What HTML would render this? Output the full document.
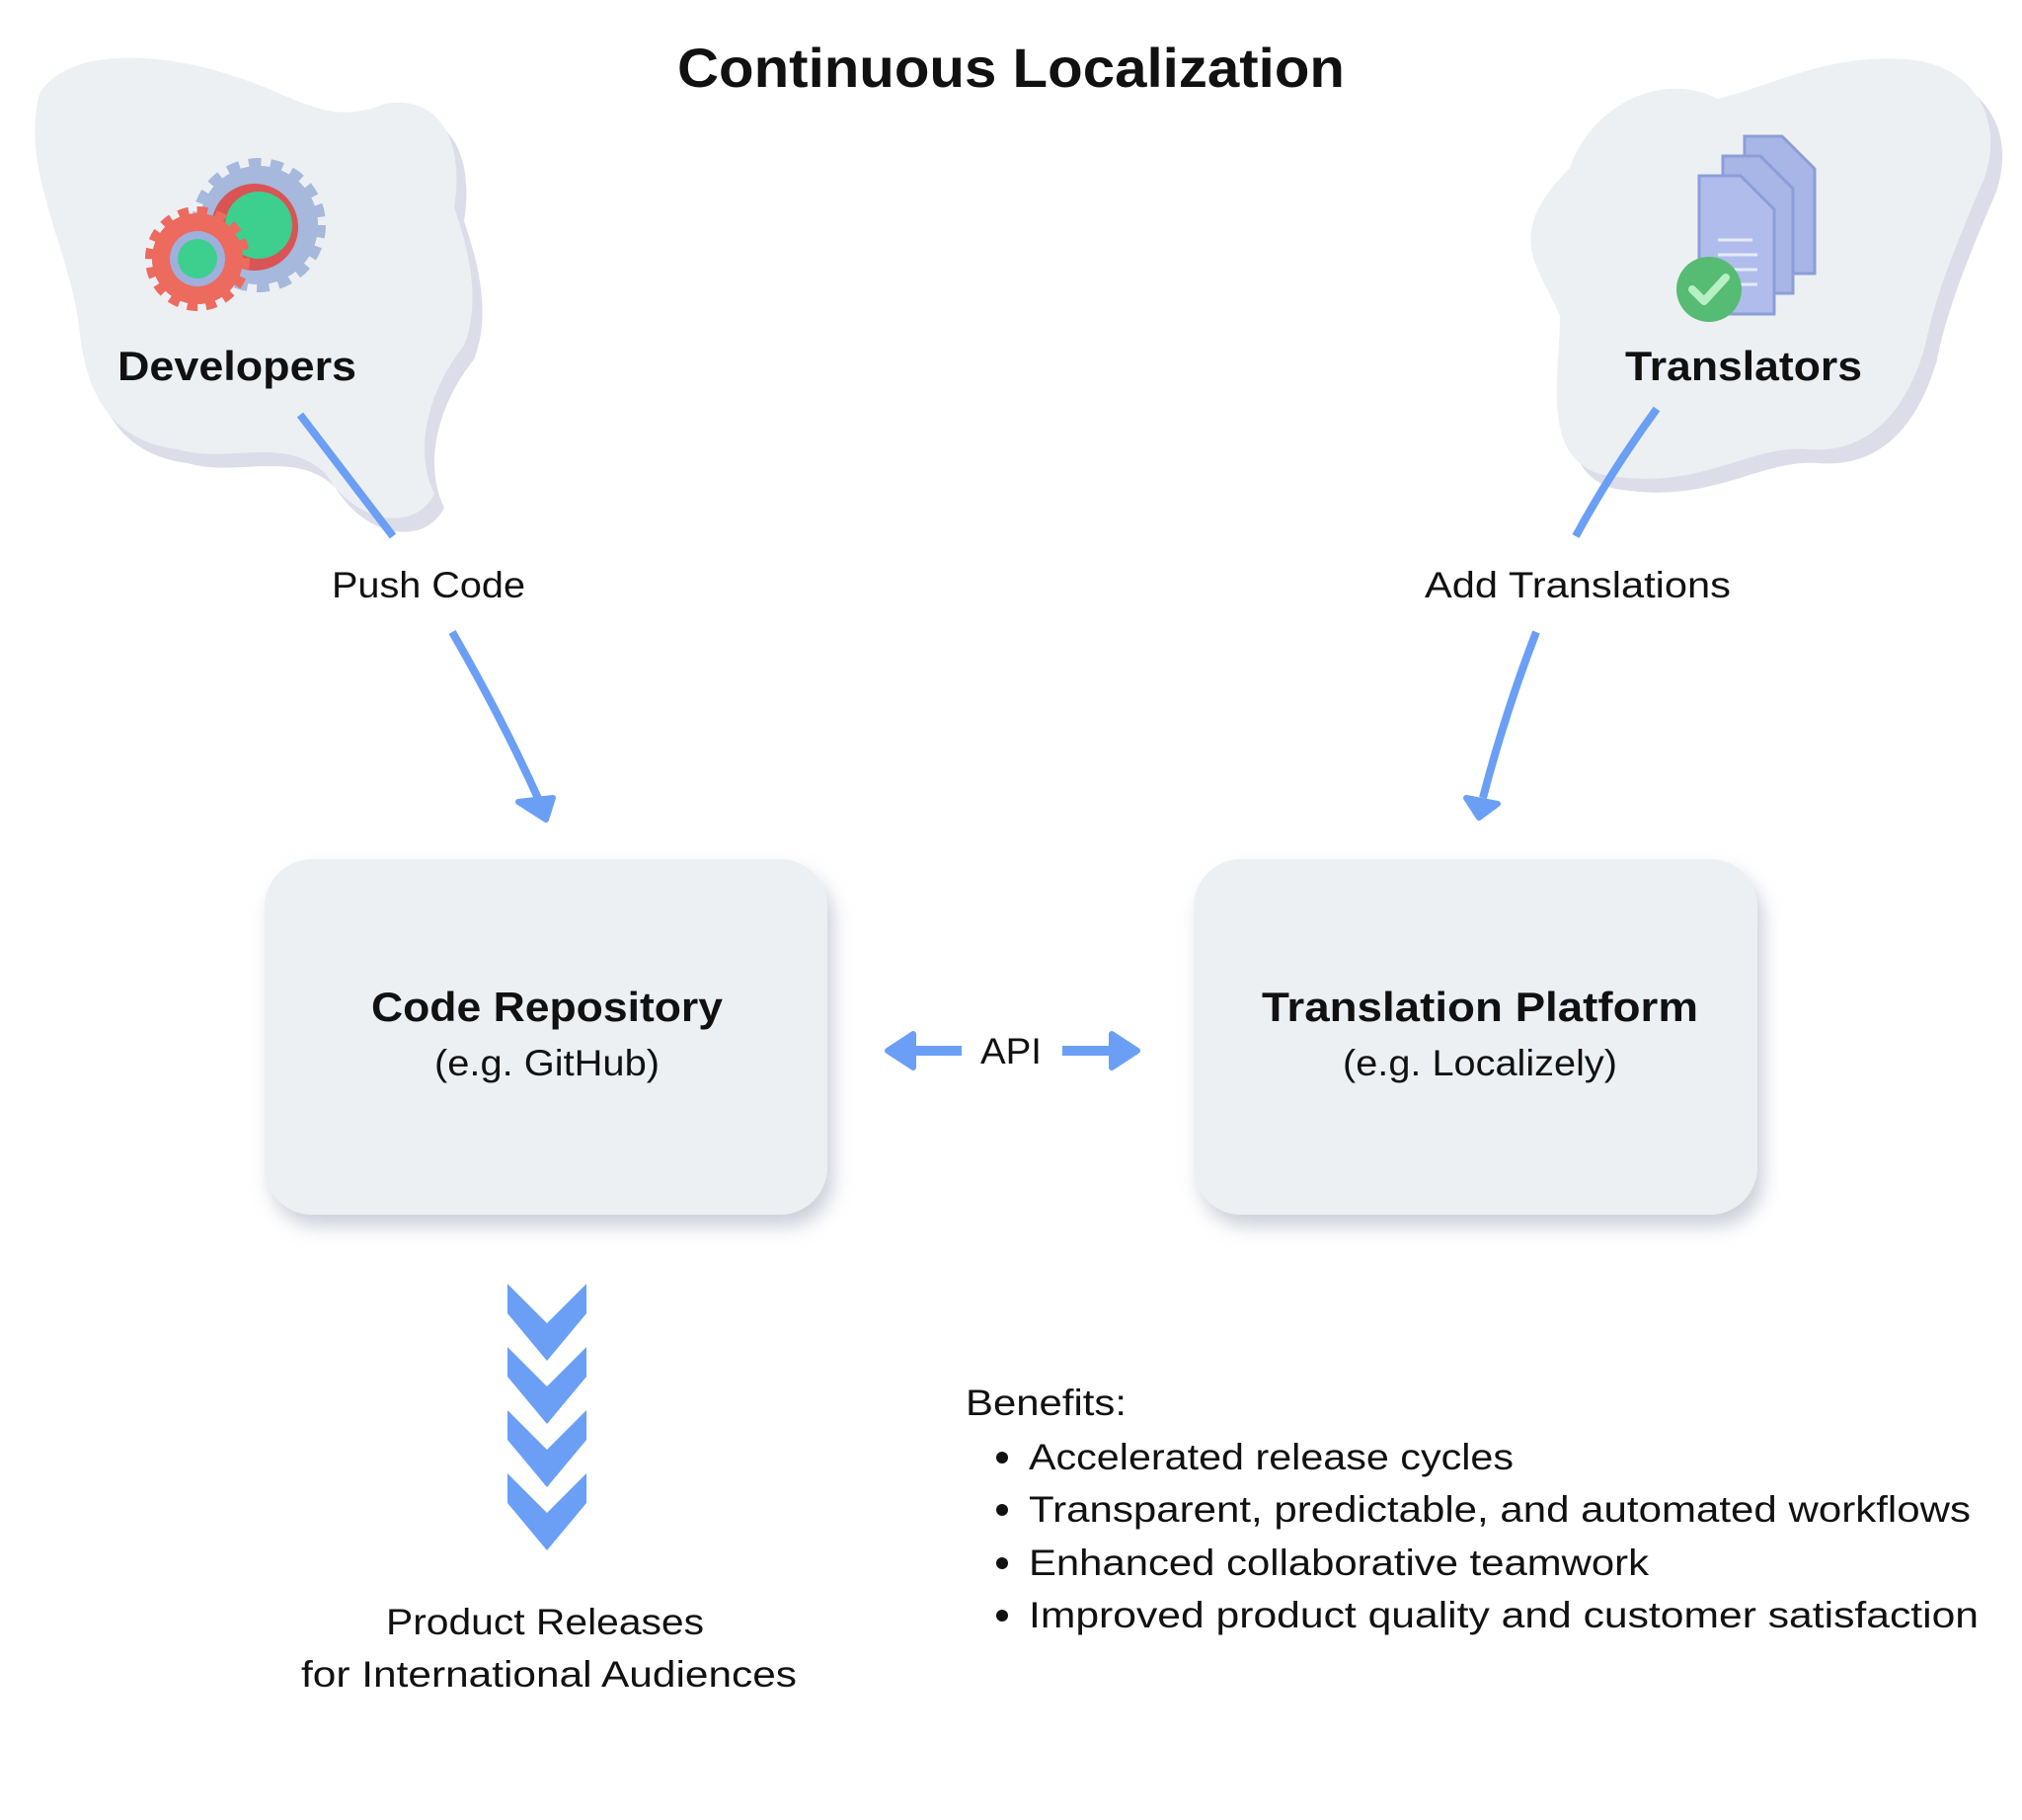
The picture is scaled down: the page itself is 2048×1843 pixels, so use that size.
<!DOCTYPE html>
<html><head><meta charset="utf-8"><style>
html,body{margin:0;padding:0;background:#fff;}
svg{display:block;}
text{font-family:"Liberation Sans",sans-serif;fill:#111;}
.b{font-weight:bold;}
</style></head><body>
<svg width="2048" height="1843" viewBox="0 0 2048 1843" xmlns="http://www.w3.org/2000/svg">
<defs>
<filter id="sh" x="-20%" y="-20%" width="140%" height="150%">
<feGaussianBlur in="SourceAlpha" stdDeviation="9"/>
<feOffset dx="6" dy="12" result="o"/>
<feFlood flood-color="#b8bccb" flood-opacity="0.7"/>
<feComposite in2="o" operator="in"/>
<feMerge><feMergeNode/><feMergeNode in="SourceGraphic"/></feMerge>
</filter>
</defs>

<text x="1024" y="88" text-anchor="middle" class="b" font-size="56" textLength="676" lengthAdjust="spacingAndGlyphs">Continuous Localization</text>

<!-- Developers blob -->
<path d="M40 95 C70 45 170 55 230 75 C300 95 330 130 390 105 C450 95 470 150 460 210 C470 240 490 300 470 350 C430 400 420 460 440 500 C420 540 360 530 330 480 C290 440 230 470 180 455 C100 445 85 380 80 330 C70 250 20 170 40 95 Z" fill="#dcdde9" transform="translate(10,14)"/>
<path d="M40 95 C70 45 170 55 230 75 C300 95 330 130 390 105 C450 95 470 150 460 210 C470 240 490 300 470 350 C430 400 420 460 440 500 C420 540 360 530 330 480 C290 440 230 470 180 455 C100 445 85 380 80 330 C70 250 20 170 40 95 Z" fill="#edf0f3"/>

<!-- gears -->
<g>
<circle cx="262" cy="228" r="60" fill="#a6b8dc" stroke="#a6b8dc" stroke-width="16" stroke-dasharray="12 9"/>
<circle cx="262" cy="228" r="60" fill="#a6b8dc"/>
<circle cx="258" cy="230" r="44" fill="#d95454"/>
<circle cx="262" cy="228" r="34" fill="#3ccf8e"/>
<circle cx="200" cy="262" r="46" fill="#ec6a5e" stroke="#ec6a5e" stroke-width="14" stroke-dasharray="10 8"/>
<circle cx="200" cy="262" r="46" fill="#ec6a5e"/>
<circle cx="200" cy="262" r="28" fill="#9fb0dc"/>
<circle cx="200" cy="262" r="20" fill="#3ccf8e"/>
</g>
<text x="240" y="385" text-anchor="middle" class="b" font-size="42" textLength="242" lengthAdjust="spacingAndGlyphs">Developers</text>

<!-- Translators blob -->
<path d="M1590 170 C1610 110 1680 70 1740 100 C1800 85 1850 55 1930 60 C2000 65 2030 120 2010 180 C1980 250 1960 300 1950 350 C1930 420 1890 460 1830 455 C1770 450 1720 500 1620 480 C1560 460 1580 380 1580 320 C1560 270 1520 240 1590 170 Z" fill="#dcdde9" transform="translate(12,14)"/>
<path d="M1590 170 C1610 110 1680 70 1740 100 C1800 85 1850 55 1930 60 C2000 65 2030 120 2010 180 C1980 250 1960 300 1950 350 C1930 420 1890 460 1830 455 C1770 450 1720 500 1620 480 C1560 460 1580 380 1580 320 C1560 270 1520 240 1590 170 Z" fill="#edf0f3"/>

<!-- documents -->
<g>
<path d="M1767 138 h38 l33 33 v106 h-71 z" fill="#a7b6e6" stroke="#8c9ed8" stroke-width="3"/>
<path d="M1745 158 h38 l33 33 v106 h-71 z" fill="#a7b6e6" stroke="#8c9ed8" stroke-width="3"/>
<path d="M1721 178 h42 l34 34 v106 h-76 z" fill="#b0bdec" stroke="#8c9ed8" stroke-width="3"/>
<g stroke="#e6ebfa" stroke-width="3"><line x1="1740" y1="243" x2="1775" y2="243"/><line x1="1740" y1="258" x2="1780" y2="258"/><line x1="1740" y1="273" x2="1780" y2="273"/><line x1="1740" y1="288" x2="1780" y2="288"/></g>
<circle cx="1731" cy="293" r="33" fill="#56bb73"/>
<path d="M1714 293 l12 12 l22 -24" fill="none" stroke="#b7f0c2" stroke-width="8" stroke-linecap="round" stroke-linejoin="round"/>
</g>
<text x="1766" y="385" text-anchor="middle" class="b" font-size="42" textLength="240" lengthAdjust="spacingAndGlyphs">Translators</text>

<!-- connectors -->
<g stroke="#6a9ff5" stroke-width="8" fill="none" stroke-linecap="butt">
<line x1="304" y1="420" x2="398" y2="543"/>
<path d="M458 640 Q510 730 548 815"/>
<path d="M1678 414 Q1630 480 1596 543"/>
<path d="M1556 640 Q1525 720 1502 808"/>
</g>
<path d="M525 812 L560 808 L553 830 Z" fill="#6a9ff5" stroke="#6a9ff5" stroke-width="6" stroke-linejoin="round"/>
<path d="M1485 808 L1517 814 L1498 828 Z" fill="#6a9ff5" stroke="#6a9ff5" stroke-width="6" stroke-linejoin="round"/>

<text x="434" y="605" text-anchor="middle" font-size="37" textLength="196" lengthAdjust="spacingAndGlyphs">Push Code</text>
<text x="1598" y="605" text-anchor="middle" font-size="37" textLength="310" lengthAdjust="spacingAndGlyphs">Add Translations</text>

<!-- boxes -->
<rect x="268" y="870" width="570" height="360" rx="48" fill="#edf0f3" filter="url(#sh)"/>
<rect x="1209" y="870" width="571" height="360" rx="48" fill="#edf0f3" filter="url(#sh)"/>
<text x="554" y="1034" text-anchor="middle" class="b" font-size="42" textLength="356" lengthAdjust="spacingAndGlyphs">Code Repository</text>
<text x="554" y="1089" text-anchor="middle" font-size="37" textLength="228" lengthAdjust="spacingAndGlyphs">(e.g. GitHub)</text>
<text x="1499" y="1034" text-anchor="middle" class="b" font-size="42" textLength="442" lengthAdjust="spacingAndGlyphs">Translation Platform</text>
<text x="1499" y="1089" text-anchor="middle" font-size="37" textLength="278" lengthAdjust="spacingAndGlyphs">(e.g. Localizely)</text>

<!-- API arrows -->
<g fill="#6a9ff5" stroke="#6a9ff5" stroke-linejoin="round" stroke-width="6">
<rect x="925" y="1059" width="49" height="10" stroke="none"/>
<path d="M899 1064 L925 1047 L925 1081 Z"/>
<rect x="1076" y="1059" width="50" height="10" stroke="none"/>
<path d="M1152 1064 L1126 1047 L1126 1081 Z"/>
</g>
<text x="1024" y="1077" text-anchor="middle" font-size="37" textLength="62" lengthAdjust="spacingAndGlyphs">API</text>

<!-- chevrons -->
<g fill="#6a9ff5">
<path d="M514 1300 L554 1340 L594 1300 L594 1330 L554 1378 L514 1330 Z" transform="translate(0,0)"/>
<path d="M514 1300 L554 1340 L594 1300 L594 1330 L554 1378 L514 1330 Z" transform="translate(0,64)"/>
<path d="M514 1300 L554 1340 L594 1300 L594 1330 L554 1378 L514 1330 Z" transform="translate(0,128)"/>
<path d="M514 1300 L554 1340 L594 1300 L594 1330 L554 1378 L514 1330 Z" transform="translate(0,192)"/>
</g>

<text x="552" y="1655" text-anchor="middle" font-size="37" textLength="322" lengthAdjust="spacingAndGlyphs">Product Releases</text>
<text x="556" y="1708" text-anchor="middle" font-size="37" textLength="502" lengthAdjust="spacingAndGlyphs">for International Audiences</text>

<!-- benefits -->
<text x="978" y="1433" font-size="37" textLength="163" lengthAdjust="spacingAndGlyphs">Benefits:</text>
<g fill="#111">
<circle cx="1015" cy="1476" r="6"/><circle cx="1015" cy="1529" r="6"/><circle cx="1015" cy="1583" r="6"/><circle cx="1015" cy="1636" r="6"/>
</g>
<text x="1042" y="1488" font-size="37" textLength="491" lengthAdjust="spacingAndGlyphs">Accelerated release cycles</text>
<text x="1042" y="1541" font-size="37" textLength="954" lengthAdjust="spacingAndGlyphs">Transparent, predictable, and automated workflows</text>
<text x="1042" y="1595" font-size="37" textLength="628" lengthAdjust="spacingAndGlyphs">Enhanced collaborative teamwork</text>
<text x="1042" y="1648" font-size="37" textLength="962" lengthAdjust="spacingAndGlyphs">Improved product quality and customer satisfaction</text>
</svg>
</body></html>
